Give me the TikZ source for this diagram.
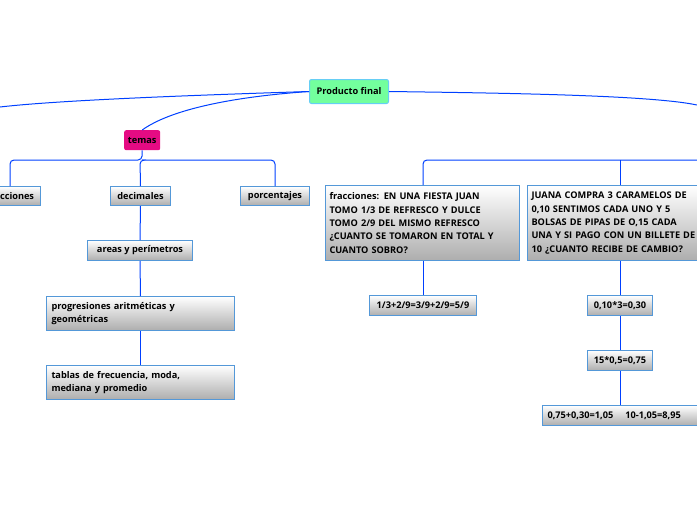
\documentclass[tikz,border=0pt]{standalone}
\usepackage{fontspec}
\setmainfont{Open Sans}
\begin{document}
\begin{tikzpicture}[x=1pt,y=-1pt,
 box/.style={draw=cyan!60!blue!70,line width=1pt,top color=white,bottom color=black!32,font=\bfseries\fontsize{9.2}{13.4}\selectfont,inner sep=0pt,anchor=north west},
 ln/.style={draw=blue!75!cyan,line width=1pt,rounded corners=4pt}]
\useasboundingbox (0,0) rectangle (697,520);
\begin{scope}
\clip (0,0) rectangle (697,520);
\node[draw=cyan!60,line width=1pt,fill=green!70!cyan!55,rounded corners=2pt,minimum width=79pt,minimum height=24pt,font=\bfseries\fontsize{9.2}{10}\selectfont,anchor=north west] (pf) at (309,79) {Producto final};
\node[fill=magenta!85!purple,rounded corners=2pt,minimum width=36pt,minimum height=20pt,font=\bfseries\fontsize{9.2}{10}\selectfont,anchor=north west] (tm) at (124,130) {temas};
\node[box,minimum width=60pt,minimum height=19pt] (fr) at (-20,186) {fracciones};
\node[box,minimum width=60pt,minimum height=19pt] (de) at (110,186) {decimales};
\node[box,minimum width=69pt,minimum height=19pt] (po) at (240,186) {porcentajes};
\node[box,minimum width=105pt,minimum height=20pt] (ar) at (87,240) {areas y perímetros};
\node[box,minimum width=188pt,minimum height=34pt,align=left,text width=178pt,inner xsep=5pt] (pr) at (46,296) {progresiones aritméticas y\\geométricas};
\node[box,minimum width=188pt,minimum height=34pt,align=left,text width=178pt,inner xsep=5pt] (ta) at (46,365) {tablas de frecuencia, moda,\\mediana y promedio};
\node[box,minimum height=75pt,align=left,text width=186pt,inner xsep=4pt] (q1) at (325,185) {fracciones: EN UNA FIESTA JUAN\\TOMO 1/3 DE REFRESCO Y DULCE\\TOMO 2/9 DEL MISMO REFRESCO\\¿CUANTO SE TOMARON EN TOTAL Y\\CUANTO SOBRO?};
\node[box,minimum height=75pt,align=left,text width=186pt,inner xsep=4pt] (q2) at (527,185) {JUANA COMPRA 3 CARAMELOS DE\\0,10 SENTIMOS CADA UNO Y 5\\BOLSAS DE PIPAS DE O,15 CADA\\UNA Y SI PAGO CON UN BILLETE DE\\10 ¿CUANTO RECIBE DE CAMBIO?};
\node[box,minimum width=107pt,minimum height=20pt] (a1) at (369,295) {1/3+2/9=3/9+2/9=5/9};
\node[box,minimum width=65pt,minimum height=20pt] (b1) at (587,295) {0,10*3=0,30};
\node[box,minimum width=65pt,minimum height=20pt] (b2) at (587,350) {15*0,5=0,75};
\node[box,minimum height=20pt,text width=150pt,inner xsep=5pt,align=left] (b3) at (542,405) {0,75+0,30=1,05\hspace{12pt}10-1,05=8,95};
\coordinate (L) at (0,107);
\coordinate (R) at (697,105);
\coordinate (Rb) at (697,160);
\draw[ln] (pf.west) .. controls (200,95) and (60,100) .. (L);
\draw[ln] (pf.east) .. controls (500,93) and (650,95) .. (R);
\draw[ln] (pf.west) .. controls (230,97) and (170,110) .. (tm.north);
\draw[ln] (tm.south) -- (142,160) -| (fr.north -| 10,186);
\draw[ln] (142,160) -| (po.north);
\draw[ln] (142,160) -- (140,160) -- (de.north);
\draw[ln] (de.south) -- (ar.north);
\draw[ln] (ar.south) -- (pr.north);
\draw[ln] (pr.south) -- (ta.north);
\draw[ln] (Rb) -- (423,160) -- (q1.north -| 423,185);
\draw[ln] (620,160) -- (q2.north -| 620,185);
\draw[ln] (q1.south -| 423,260) -- (a1.north -| 423,295);
\draw[ln] (q2.south -| 620,260) -- (b1.north -| 620,295);
\draw[ln] (b1.south) -- (b2.north);
\draw[ln] (b2.south) -- (b3.north -| 620,405);
\end{scope}
\end{tikzpicture}
\end{document}
